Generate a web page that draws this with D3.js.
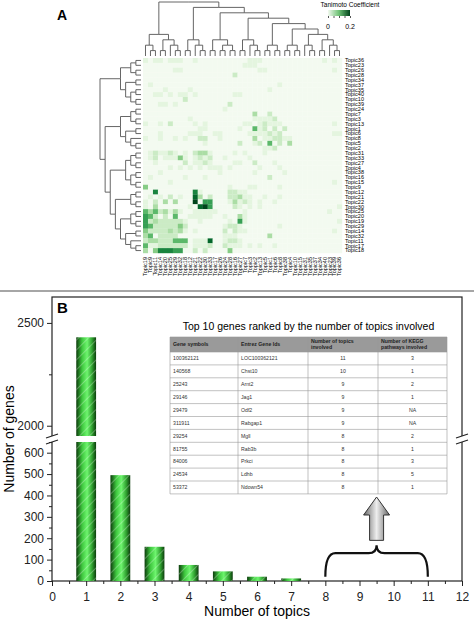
<!DOCTYPE html>
<html><head><meta charset="utf-8">
<script src="https://cdn.jsdelivr.net/npm/d3@7"></script>
<style>body{margin:0;background:#fff}svg{font-family:"Liberation Sans",Arial,sans-serif}</style>
</head><body><svg id="c" width="474" height="625"></svg>
<script>
// ---- panel A data ----
const rowTopics = [36,23,26,28,34,37,35,40,10,39,24,7,3,13,1,6,8,5,2,31,33,27,4,38,16,15,9,12,21,22,30,25,20,19,29,14,32,11,17,18];
const colTopics = [19,9,11,14,20,25,29,32,18,12,21,22,30,33,17,26,24,28,16,27,7,3,2,13,5,1,6,8,38,4,10,15,31,35,37,34,40,23,39,36];
// Tanimoto level per cell (0-9 ~ 0-0.2)
const heatRows = [
"1011011100 1000000000 0111000000 0000001010",
"0000000000 0000000000 1110000000 0000000000",
"0000001100 0000000000 0001100000 0000000010",
"0000000000 0000000020 0000000000 0000000000",
"0000000000 0000000000 0000000000 0000000000",
"0100000000 0000000000 0000000100 0000000000",
"0000100001 0000000000 0000010000 0000000000",
"0011010110 1000000011 0000000000 0000000000",
"0000000020 0000000000 0000000000 0000000000",
"0001101000 0000000200 0000000000 0000000000",
"0000000000 0000001000 0000000000 0000000000",
"0000000000 0000000000 0030020000 0000000000",
"0000000001 0000000000 0011112000 0000000000",
"1001020000 1010000000 1101211100 0000000010",
"0000000000 0110000001 0051202020 0000000000",
"0001000001 1100110000 0111121200 0000000011",
"1001001010 0220010000 0030112211 0000000000",
"0000000000 0010000002 0012050203 0000000000",
"0000000000 0000000000 0000112000 0000000000",
"0121121010 2331000010 1000100000 0000000000",
"0120111410 1212001000 0100000000 0000000000",
"0010000020 1121000011 0020001000 0000000000",
"0000010101 0101110100 0001000100 0000000000",
"0001000000 0000010000 0010000010 0000000000",
"0100000010 0010000000 0000020000 0000000000",
"0000010000 0000000000 0000000000 0000000010",
"4000000000 0000000100 0110000100 0000000000",
"0070000000 7100000221 1000000000 0000000000",
"0101020100 8302000223 1100100100 0000000000",
"1020303000 9066000131 2101001000 0000000000",
"1030000001 0896000021 0101000000 0000000001",
"5352313100 1111100000 1000000000 0000000100",
"6520205001 1111001003 1000000000 0000000000",
"6232222210 0100000106 1000000000 0000000001",
"6522222420 0000001221 0000000100 0000000000",
"4222232310 1000002021 1000000000 0000000010",
"3502222000 0000001110 0000030000 0000000000",
"2332225550 1118001221 0000000000 0000000000",
"5112222220 1112002111 0101001000 0000000000",
"3047776600 2020000400 0000000000 0000000000"
];
const topTree = [[[0,[1,2]],[[3,4],[5,[6,7]]]],[[[8,9],[10,[11,12]]],[[[13,14],[[15,16],[17,18]]],[[[19,20],[21,[22,23]]],[[[24,25],[26,27]],[[[28,29],[30,31]],[[32,[33,34]],[[35,36],[37,[38,39]]]]]]]]]];
const leftTree = [[[[0,1],[2,3]],[[4,5],[[6,7],[8,9]]]],[[[[10,11],[12,13]],[[14,15],[16,[17,18]]]],[[[[19,20],[21,22]],[[23,24],[25,26]]],[[[27,28],[29,30]],[[[31,32],[33,34]],[[35,36],[37,[38,39]]]]]]]];

// ---- panel B data ----
const topicCounts = [1,2,3,4,5,6,7];
const geneCounts = [2430,495,160,75,45,20,12];
const tableHead = ["Gene symbols","Entrez Gene Ids","Number of topics\ninvolved","Number of KEGG\npathways involved"];
const geneIds = ["100362121","140568","25243","29146","29479","311911","29254","81755","84006","24534","53372"];
const geneSymbols = ["LOC100362121","Chst10","Arnt2","Jag1","Odf2","Rabgap1","Mgll","Rab3b","Prkci","Ldhb","Ndown54"];
const nTopics = ["11","10","9","9","9","9","8","8","8","8","8"];
const nKegg = ["3","1","2","1","NA","NA","2","1","3","5","1"];

const svg = d3.select("#c");
const defs = svg.append("defs");

// ===== Panel A =====
svg.append("text").attr("x",57).attr("y",20).attr("font-size",14).attr("font-weight","bold").text("A");
const hx0 = 143, hx1 = 342, hy0 = 58, hy1 = 253;
const xh = d3.scaleBand().domain(d3.range(40)).range([hx0,hx1]);
const yh = d3.scaleBand().domain(d3.range(40)).range([hy0,hy1]);
const grn = d3.scaleLinear().domain([0,1,9]).range([0.03,0.12,1]);
const col = v => d3.interpolateGreens(grn(v));
const cells = [];
heatRows.forEach((s,r)=>s.replace(/ /g,"").split("").forEach((c,i)=>cells.push({r,i,v:+c})));
svg.append("g").selectAll("rect").data(cells).join("rect")
  .attr("x",d=>xh(d.i)).attr("y",d=>yh(d.r)).attr("width",xh.bandwidth()+0.2).attr("height",yh.bandwidth()+0.2)
  .attr("fill",d=>col(d.v));
svg.append("g").selectAll("text").data(rowTopics).join("text")
  .attr("x",hx1+3).attr("y",(d,i)=>yh(i)+yh.bandwidth()/2).attr("dy","0.35em")
  .attr("font-size",5.5).text(d=>"Topic"+d);
svg.append("g").selectAll("text").data(colTopics).join("text")
  .attr("transform",(d,i)=>`translate(${xh(i)+xh.bandwidth()/2},${hy1+4}) rotate(-90)`)
  .attr("text-anchor","end").attr("dy","0.35em").attr("font-size",5.5).text(d=>"Topic"+d);

function toHier(t){ return Array.isArray(t) ? {children:t.map(toHier)} : {leaf:t}; }
function dendro(tree){
  const root = d3.hierarchy(toHier(tree));
  root.leaves().forEach((l,i)=>l.pos = i);
  root.eachAfter(n=>{ if(n.children) n.pos = d3.mean(n.children,c=>c.pos); n.h = n.height; });
  return {root, H: root.height};
}
// top dendrogram
{
  const {root,H} = dendro(topTree);
  const yd = d3.scaleLinear().domain([0,H]).range([hy0-2,2]);
  const px = p => xh(0)+xh.bandwidth()*(p+0.5);
  const g = svg.append("g").attr("stroke","#555").attr("fill","none").attr("stroke-width",0.9);
  root.descendants().filter(n=>n.parent).forEach(n=>{
    g.append("path").attr("d",`M${px(n.pos)},${yd(n.h)}V${yd(n.parent.h)}H${px(n.parent.pos)}`);
  });
}
// left dendrogram
{
  const {root,H} = dendro(leftTree);
  const xd = d3.scaleLinear().domain([0,H]).range([hx0-2,100]);
  const py = p => yh(0)+yh.bandwidth()*(p+0.5);
  const g = svg.append("g").attr("stroke","#555").attr("fill","none").attr("stroke-width",0.9);
  root.descendants().filter(n=>n.parent).forEach(n=>{
    g.append("path").attr("d",`M${xd(n.h)},${py(n.pos)}H${xd(n.parent.h)}V${py(n.parent.pos)}`);
  });
}
// legend
{
  const lg = defs.append("linearGradient").attr("id","lg");
  [0,0.5,1].forEach(t=>lg.append("stop").attr("offset",t).attr("stop-color",d3.interpolateGreens(0.03+t*0.97)));
  svg.append("text").attr("x",350).attr("y",7).attr("text-anchor","middle").attr("font-size",6.5).text("Tanimoto Coefficient");
  svg.append("rect").attr("x",328).attr("y",10).attr("width",22).attr("height",6).attr("fill","url(#lg)");
  const ls = d3.scaleLinear().domain([0,0.2]).range([328,350]);
  svg.append("g").attr("transform","translate(0,16)").call(d3.axisBottom(ls).ticks(5).tickSize(2).tickFormat(""))
    .call(g=>g.select(".domain").remove()).call(g=>g.selectAll("line").attr("stroke","#555"));
  svg.append("text").attr("x",328).attr("y",29).attr("text-anchor","middle").attr("font-size",7).text("0");
  svg.append("text").attr("x",350).attr("y",29).attr("text-anchor","middle").attr("font-size",7).text("0.2");
}
svg.append("line").attr("x1",0).attr("x2",474).attr("y1",291).attr("y2",291).attr("stroke","#888").attr("stroke-width",1.5);

// ===== Panel B =====
const L = 52, R = 462, T = 297, B = 581;
const x = d3.scaleLinear().domain([0,12]).range([L,R]);
const yLo = d3.scaleLinear().domain([0,650]).range([B,442]);
const yHi = d3.scaleLinear().domain([1950,2626]).range([436,T]);

const bg = defs.append("linearGradient").attr("id","bar");
[["0","#0d3d0d"],["0.3","#3fc83f"],["0.55","#6ef56e"],["0.8","#2fa02f"],["1","#0d3d0d"]]
  .forEach(([o,c])=>bg.append("stop").attr("offset",o).attr("stop-color",c));
const pat = defs.append("pattern").attr("id","hatch").attr("width",7).attr("height",7)
  .attr("patternUnits","userSpaceOnUse").attr("patternTransform","rotate(45)");
pat.append("line").attr("x1",0).attr("y1",0).attr("x2",0).attr("y2",7).attr("stroke","#fff").attr("stroke-opacity",0.55).attr("stroke-width",1);

svg.append("rect").attr("x",L).attr("y",T).attr("width",R-L).attr("height",B-T).attr("fill","none").attr("stroke","#222").attr("stroke-width",1.2);
svg.append("text").attr("x",L+5).attr("y",T+16).attr("font-size",15).attr("font-weight","bold").text("B");

const bw = x(0.58)-x(0);
const bars = svg.append("g");
topicCounts.forEach((t,i)=>{
  const v = geneCounts[i];
  const segs = [[yLo(Math.min(v,650)), yLo(0)]];
  if(v>1950) segs.push([yHi(v), yHi(1950)]);
  segs.forEach(([a,b])=>{
    bars.append("rect").attr("x",x(t)-bw/2).attr("y",a).attr("width",bw).attr("height",b-a).attr("fill","url(#bar)");
    bars.append("rect").attr("x",x(t)-bw/2).attr("y",a).attr("width",bw).attr("height",b-a).attr("fill","url(#hatch)");
  });
});

const fmt = g=>g.call(s=>s.select(".domain").remove()).call(s=>s.selectAll("text").attr("font-size",12).attr("fill","#222"))
  .call(s=>s.selectAll("line").attr("stroke","#222"));
const nf = d3.format("d");
svg.append("g").attr("transform",`translate(0,${B})`).call(d3.axisBottom(x).ticks(12).tickSize(5).tickPadding(6)).call(fmt);
svg.append("g").attr("transform",`translate(0,${B})`).call(d3.axisBottom(x).tickValues(d3.range(0.5,12,1)).tickSize(3).tickFormat("")).call(fmt);
svg.append("g").attr("transform",`translate(${L},0)`).call(d3.axisLeft(yLo).tickValues(d3.range(0,601,100)).tickSize(5).tickFormat(nf)).call(fmt);
svg.append("g").attr("transform",`translate(${L},0)`).call(d3.axisLeft(yLo).tickValues(d3.range(50,651,100)).tickSize(3).tickFormat("")).call(fmt);
svg.append("g").attr("transform",`translate(${L},0)`).call(d3.axisLeft(yHi).tickValues([2000,2500]).tickSize(5).tickFormat(nf)).call(fmt);
svg.append("g").attr("transform",`translate(${L},0)`).call(d3.axisLeft(yHi).tickValues([2250]).tickSize(3).tickFormat("")).call(fmt);

// axis break
[L,R].forEach(bx=>{
  svg.append("rect").attr("x",bx-6).attr("y",436).attr("width",12).attr("height",6).attr("fill","#fff");
  [436,442].forEach(by=>svg.append("line").attr("x1",bx-6).attr("x2",bx+6).attr("y1",by+2).attr("y2",by-2).attr("stroke","#222").attr("stroke-width",1.2));
});

svg.append("text").attr("x",(L+R)/2).attr("y",616).attr("text-anchor","middle").attr("font-size",14).text("Number of topics");
svg.append("text").attr("transform",`translate(14,${(T+B)/2}) rotate(-90)`).attr("text-anchor","middle").attr("font-size",14).text("Number of genes");

// bracket 8..11 and arrow
const by0 = yLo(130), by1 = yLo(20);
const xm = x(9.5);
svg.append("path").attr("fill","none").attr("stroke","#111").attr("stroke-width",2.2)
  .attr("d",`M${x(8)},${by1}Q${x(8)},${by0} ${x(8)+10},${by0}H${xm-8}Q${xm},${by0} ${xm},${by0-8}Q${xm},${by0} ${xm+8},${by0}H${x(11)-10}Q${x(11)},${by0} ${x(11)},${by1}`);
const ag = defs.append("linearGradient").attr("id","arr");
[["0","#666"],["0.5","#eee"],["1","#666"]].forEach(([o,c])=>ag.append("stop").attr("offset",o).attr("stop-color",c));
const ay = yLo(190), at = 497;
svg.append("path").attr("fill","url(#arr)").attr("stroke","#333").attr("stroke-width",1)
  .attr("d",`M${xm-7},${ay}V${at+18}H${xm-13}L${xm},${at}L${xm+13},${at+18}H${xm+7}V${ay}Z`);

// table
const tx = [170,238,308,378,447], ty0 = 337, hh = 15, rh = 12.9;
svg.append("text").attr("x",(tx[0]+tx[4])/2).attr("y",330).attr("text-anchor","middle").attr("font-size",10.5).text("Top 10 genes ranked by the number of topics involved");
svg.append("rect").attr("x",tx[0]).attr("y",ty0).attr("width",tx[4]-tx[0]).attr("height",hh).attr("fill","#9a9a9a");
const tcols = [geneIds,geneSymbols,nTopics,nKegg];
const tg = svg.append("g").attr("font-size",5.2).attr("fill","#333");
tableHead.forEach((h,c)=>{
  h.split("\n").forEach((line,k,arr)=>tg.append("text").attr("x",tx[c]+3).attr("y",ty0+hh/2+(k-(arr.length-1)/2)*6).attr("dy","0.35em")
    .attr("font-weight","bold").attr("fill","#222").text(line));
});
tcols.forEach((vals,c)=>vals.forEach((v,r)=>{
  tg.append("text").attr("x",c<2?tx[c]+3:(tx[c]+tx[c+1])/2).attr("text-anchor",c<2?"start":"middle")
    .attr("y",ty0+hh+rh*(r+0.5)).attr("dy","0.35em").text(v);
}));
const ty1 = ty0+hh+rh*geneIds.length;
const lines = svg.append("g").attr("stroke","#999").attr("stroke-width",0.6);
d3.range(geneIds.length+2).forEach(r=>{const yy = r===0?ty0:ty0+hh+rh*(r-1); lines.append("line").attr("x1",tx[0]).attr("x2",tx[4]).attr("y1",yy).attr("y2",yy);});
tx.forEach(xx=>lines.append("line").attr("x1",xx).attr("x2",xx).attr("y1",ty0).attr("y2",ty1));
</script></body></html>
